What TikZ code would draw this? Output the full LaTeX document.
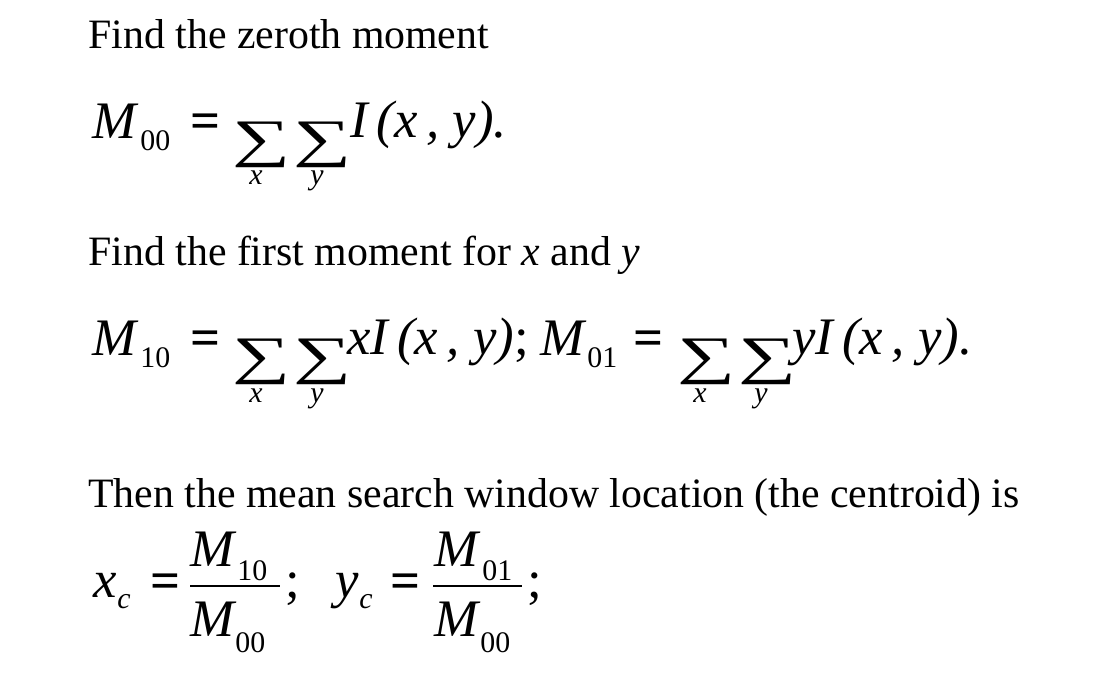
\documentclass[tikz,border=0pt]{standalone}
\usepackage{fontspec}
\setmainfont{Liberation Serif}
\newcommand{\sgm}{\scalebox{1.55}[1]{\symbol{"2211}}}
\begin{document}
\begin{tikzpicture}[x=0.02cm,y=-0.02cm,
  t/.style={anchor=base west,inner sep=0pt,font=\fontsize{23.8}{27}\selectfont},
  m/.style={anchor=base west,inner sep=0pt,font=\fontsize{30}{32}\selectfont\itshape},
  s/.style={anchor=base west,inner sep=0pt,font=\fontsize{17}{20}\selectfont},
  lim/.style={anchor=base,inner sep=0pt,font=\fontsize{17}{20}\selectfont\itshape},
  sig/.style={anchor=base west,inner sep=0pt,font=\fontsize{30}{32}\selectfont},
  eq/.style={anchor=base west,inner sep=0pt,font=\fontsize{30}{32}\selectfont\bfseries}]
\fill[white] (0,0) rectangle (1104,677);
\node[t] (l1) at (88,48) {Find the zeroth moment};
% line 2
\node[m] (a1) at (92,138) {M};
\node[s] (a2) at (140,150) {00};
\node[eq] (a3) at (190,138) {=};
\node[sig] (a4) at (232,156) {\sgm};
\node[sig] (a4b) at (293,156) {\sgm};
\node[m] (a5) at (350,137) {I\,(x\,, y).};
\node[lim] (a6) at (256,184) {x};
\node[lim] (a7) at (317,184) {y};
\node[t] (l3) at (88,265) {Find the first moment for \textit{x} and \textit{y}};
% line 4
\node[m] (b1) at (92,355) {M};
\node[s] (b2) at (140,367) {10};
\node[eq] (b3) at (190,355) {=};
\node[sig] (b4) at (232,373) {\sgm};
\node[sig] (b4b) at (293,373) {\sgm};
\node[m] (b5) at (347,354) {xI\,(x\,, y)\upshape;};
\node[m] (b6) at (540,355) {M};
\node[s] (b7) at (587,367) {01};
\node[eq] (b8) at (633,355) {=};
\node[sig] (b9) at (677,373) {\sgm};
\node[sig] (b9b) at (738,373) {\sgm};
\node[m] (b10) at (792,354) {yI\,(x\,, y).};
\node[lim] (b11) at (256,402) {x};
\node[lim] (b12) at (317,402) {y};
\node[lim] (b13) at (700,402) {x};
\node[lim] (b14) at (761,402) {y};
\node[t] (l5) at (88,507) {Then the mean search window location (the centroid) is};
% line 6
\node[m] (c1) at (93,597) {x};
\node[lim] (c2) at (124,608) {c};
\node[eq] (c3) at (150,598) {=};
\node[m] (c4) at (190,566) {M};
\node[s] (c5) at (237,580) {10};
\coordinate (f1a) at (190,586);
\coordinate (f1b) at (280,586);
\draw[line width=1.1pt] (f1a) -- (f1b);
\node[m] (c6) at (190,636) {M};
\node[s] (c7) at (235,652) {00};
\node[m] (c8) at (285,597) {\upshape;};
\node[m] (c9) at (335,597) {y};
\node[lim] (c10) at (366,608) {c};
\node[eq] (c11) at (390,598) {=};
\node[m] (c12) at (434,566) {M};
\node[s] (c13) at (482,580) {01};
\coordinate (f2a) at (433,586);
\coordinate (f2b) at (522,586);
\draw[line width=1.1pt] (f2a) -- (f2b);
\node[m] (c14) at (434,636) {M};
\node[s] (c15) at (480,652) {00};
\node[m] (c16) at (527,597) {\upshape;};
\end{tikzpicture}
\end{document}
